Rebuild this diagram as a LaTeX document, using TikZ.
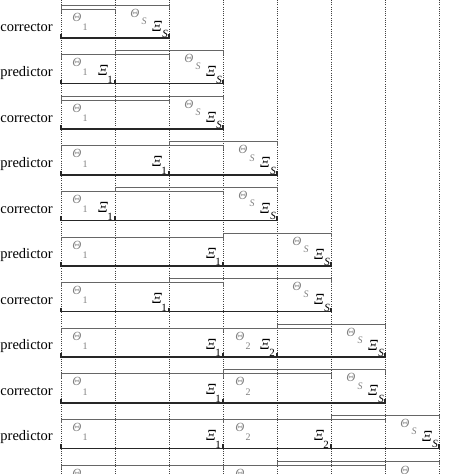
\documentclass[tikz,border=0pt]{standalone}
\usepackage{fontspec}
\setmainfont{Liberation Serif}
\usetikzlibrary{positioning}

\begin{document}
\begin{tikzpicture}[x=1pt, y=-1pt,
    vline/.style={gray!50!black, line width=0.7pt, dash pattern=on 1pt off 1.2pt},
    spanline/.style={gray!80!black, line width=1pt},
    floorline/.style={black!85, line width=1.5pt},
    rowlabel/.style={font=\fontsize{14.5}{16}\selectfont, anchor=east, inner sep=0pt},
    thg/.style={gray, font=\fontsize{12.5}{13}\selectfont\itshape, inner sep=0pt},
    thsub/.style={gray, font=\fontsize{10}{11}\selectfont, inner sep=0pt},
    xig/.style={black, font=\fontsize{15.5}{16}\selectfont\itshape, inner sep=0pt},
    xisub/.style={black, font=\fontsize{11}{12}\selectfont, inner sep=0pt}]
  \clip (0,0) rectangle (474,474);
  \foreach \k in {0,...,7}
    \draw [vline] ({61+54*\k},0) -- ({61+54*\k},474);
  \foreach \r/\kind/\us/\ue/\ta/\tb/\xa/\xb in {
      1/corrector/0/2/1/0/0/0,
      2/predictor/1/3/2/0/1/0,
      3/corrector/0/3/2/0/0/0,
      4/predictor/2/4/3/0/2/0,
      5/corrector/1/4/3/0/1/0,
      6/predictor/3/5/3/0/3/0,
      7/corrector/2/5/3/0/2/0,
      8/predictor/4/6/3/5/3/4,
      9/corrector/3/6/3/5/3/0,
      10/predictor/5/7/3/6/3/5}
  {
    \pgfmathsetmacro{\y}{5+45.6*(\r-1)}
    \pgfmathsetmacro{\xs}{61+54*\us}
    \pgfmathsetmacro{\xe}{61+54*\ue}
    \pgfmathsetmacro{\xta}{61+54*\ta}
    \pgfmathsetmacro{\xtb}{61+54*\tb}
    \pgfmathsetmacro{\xxa}{61+54*\xa}
    \pgfmathsetmacro{\xxb}{61+54*\xb}
    \node (kind\r) [rowlabel] at (53,{\y+22}) {\kind};
    \draw [spanline] (\xs,{\y+4}) -- (\xs,\y) -- (\xe,\y) -- (\xe,{\y+4});
    \draw [spanline] (61,{\y+8}) -- (61,{\y+4}) -- (\xta,{\y+4}) -- (\xta,{\y+8});
    \draw [floorline] (61,{\y+29}) -- (61,{\y+33}) -- (\xe,{\y+33}) -- (\xe,{\y+29});
    \node (thA\r) [thg] at (77,{\y+12}) {Θ};
    \node (thAs\r) [thsub] at (85,{\y+22}) {1};
    \node (thS\r) [thg] at ({\xe-34},{\y+8}) {Θ};
    \node (thSs\r) [thsub] at ({\xe-25},{\y+16}) {\itshape S};
    \node (xiS\r) [xig] at ({\xe-12},{\y+21}) {Ξ};
    \node (xiSs\r) [xisub] at ({\xe-4},{\y+29}) {\itshape S};
    \ifnum\xa>0
      \draw [floorline] (\xxa,{\y+29}) -- (\xxa,{\y+33});
      \node (xiA\r) [xig] at ({\xxa-12},{\y+20}) {Ξ};
      \node (xiAs\r) [xisub] at ({\xxa-5},{\y+29}) {1};
    \fi
    \ifnum\tb>0
      \draw [spanline] (223,{\y+8}) -- (223,{\y+4}) -- (\xtb,{\y+4}) -- (\xtb,{\y+8});
      \node (thB\r) [thg] at (240,{\y+12}) {Θ};
      \node (thBs\r) [thsub] at (248,{\y+22}) {2};
    \fi
    \ifnum\xb>0
      \draw [floorline] (\xxb,{\y+29}) -- (\xxb,{\y+33});
      \node (xiB\r) [xig] at ({\xxb-12},{\y+20}) {Ξ};
      \node (xiBs\r) [xisub] at ({\xxb-5},{\y+29}) {2};
    \fi
  }
  \draw [spanline] (277,465) -- (277,461) -- (439,461) -- (439,465);
  \draw [spanline] (61,469) -- (61,465) -- (223,465) -- (223,469);
  \draw [spanline] (223,469) -- (223,465) -- (385,465) -- (385,469);
  \node (thA11) [thg] at (77,473) {Θ};
  \node (thB11) [thg] at (240,473) {Θ};
  \node (thS11) [thg] at (405,470) {Θ};
\end{tikzpicture}
\end{document}
